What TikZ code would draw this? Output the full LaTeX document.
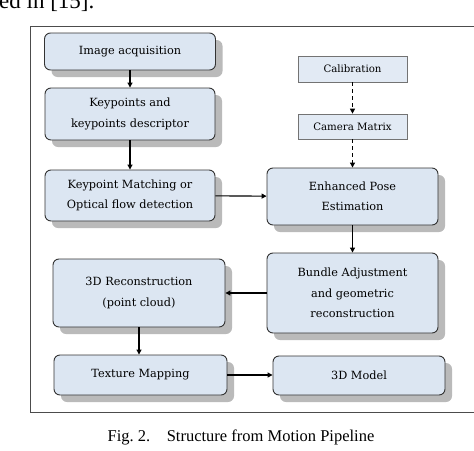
\documentclass[tikz,border=0pt]{standalone}
\usepackage{fontspec}
\setmainfont{Liberation Serif}
\newfontfamily\boxfont{DejaVu Serif}
\usepackage{xcolor}
\usepackage{tikz}
\usetikzlibrary{arrows.meta}
\usetikzlibrary{shadows}
\definecolor{boxblue}{HTML}{DCE6F2}
\definecolor{calibblue}{HTML}{E2EAF4}
\colorlet{shadowgray}{black!27}
\tikzstyle{stage}=[draw=black!80,line width=.9pt,fill=boxblue,rounded corners=6pt,align=center,
  font=\boxfont\fontsize{11.3}{20.5}\selectfont,inner sep=2pt,
  drop shadow={shadow xshift=7pt,shadow yshift=-7pt,fill=shadowgray,opacity=1}]
\tikzstyle{calib}=[draw=black!55,line width=.7pt,fill=calibblue,align=center,
  font=\boxfont\fontsize{10.2}{12}\selectfont,inner sep=2pt]
\tikzstyle{flow}=[line width=1.1pt,-{Triangle[length=5pt,width=5pt]}]
\tikzstyle{given}=[flow,dash pattern=on 4pt off 3pt]
\begin{document}
\begin{tikzpicture}[x=1pt,y=-1pt]
	\useasboundingbox (0,0) rectangle (474,450);
	% text of the page round the figure
	\node[anchor=base west,inner sep=0pt,font=\fontsize{23}{26}\selectfont] (pagetext) at (-1,8) {ed in [15].};
	\draw[line width=.8pt,black!70] (480,26) -- (30,26) -- (30,412) -- (480,412);
	\node[font=\fontsize{16.5}{19}\selectfont] (caption) at (241,437) {Fig.~2.\quad Structure from Motion Pipeline};
	% left column
	\node[stage,minimum width=171pt,minimum height=37pt] (acq) at (130,51.5) {Image acquisition};
	\node[stage,minimum width=170pt,minimum height=52pt] (kp) at (130,114) {Keypoints and\\keypoints descriptor};
	\node[stage,minimum width=170pt,minimum height=51pt] (match) at (130,195.5) {Keypoint Matching or\\Optical flow detection};
	% right column
	\node[calib,minimum width=109pt,minimum height=26pt] (calib) at (352.5,69) {Calibration};
	\node[calib,minimum width=109pt,minimum height=25pt] (cam) at (352.5,126.5) {Camera Matrix};
	\node[stage,minimum width=171pt,minimum height=57pt] (pose) at (352.5,196.5) {Enhanced Pose\\Estimation};
	\node[stage,minimum width=171pt,minimum height=80pt] (bundle) at (352.5,293) {Bundle Adjustment\\and geometric\\reconstruction};
	% bottom rows
	\node[stage,minimum width=172pt,minimum height=68pt] (recon) at (139,293) {3D Reconstruction\\(point cloud)};
	\node[stage,minimum width=173pt,minimum height=40pt] (tex) at (140.5,375) {Texture Mapping};
	\node[stage,minimum width=172pt,minimum height=39pt] (model) at (359,375.5) {3D Model};
	% connectors
	\draw[flow] (acq) -- (kp);
	\draw[flow] (kp) -- (match);
	\draw[flow] (match) -- (pose);
	\draw[given] (calib) -- (cam);
	\draw[given] (cam) -- (pose);
	\draw[flow] (pose) -- (bundle);
	\draw[flow] (bundle) -- (recon);
	\draw[flow] (recon.south) -- (recon.south |- tex.north);
	\draw[flow] (tex) -- (tex -| model.west);
\end{tikzpicture}
\end{document}
